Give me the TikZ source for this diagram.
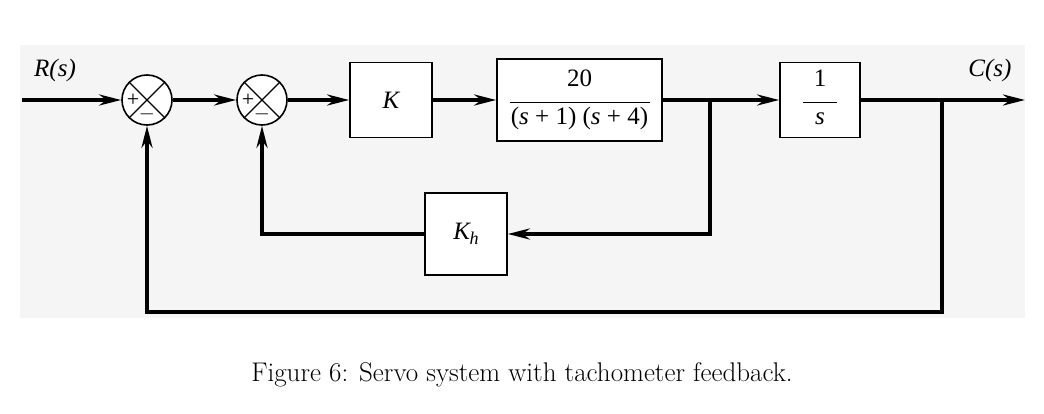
\documentclass[tikz,border=0pt]{standalone}
\usepackage{fontspec}
\newfontfamily\tms{Liberation Serif}
\usetikzlibrary{arrows.meta}
\begin{document}
\begin{tikzpicture}[x=1pt,y=-1pt,
  wire/.style={line width=3.5pt},
  arr/.style={wire,-{Stealth[length=22pt,width=11pt]}},
  blk/.style={draw,line width=1.6pt,fill=white,inner sep=0pt,font=\tms\fontsize{25}{27}\selectfont},
  sumc/.style={draw,line width=1.6pt,circle,minimum size=50pt,inner sep=0pt,fill=white},
  lab/.style={font=\tms\itshape\fontsize{25}{27}\selectfont}]
\useasboundingbox (0,0) rectangle (1044,414);
\fill[black!4] (20,45) rectangle (1025,318);
\node[sumc] (s1) at (147,100) {};
\node[sumc] (s2) at (262,100) {};
\foreach \s in {s1,s2}{
 \draw[line width=1.4pt] (\s.north west)--(\s.south east) (\s.north east)--(\s.south west);
 \node[font=\tms\fontsize{22}{22}\selectfont] at ([xshift=-14pt]\s.center) {+};
 \node[font=\fontsize{22}{22}\selectfont] at ([yshift=-14pt]\s.center) {$-$};}
\node[blk,minimum width=82pt,minimum height=75pt] (K) at (391,100) {\itshape K};
\node[blk,minimum width=165pt,minimum height=82pt] (G) at (579.5,100) {\begin{tabular}{@{}c@{}}20\\[-10pt]\rule{140pt}{1pt}\\[-6pt](\textit{s} + 1) (\textit{s} + 4)\end{tabular}};
\node[blk,minimum width=80pt,minimum height=75pt] (I) at (820,100) {\begin{tabular}{@{}c@{}}1\\[-10pt]\rule{34pt}{1pt}\\[-6pt]\textit{s}\end{tabular}};
\node[blk,minimum width=82pt,minimum height=82pt] (Kh) at (466,234) {\itshape K\kern-0.5pt\raisebox{-5pt}{\fontsize{18}{18}\selectfont h}};
\coordinate (in) at (22,100);
\coordinate (out) at (1025,100);
\coordinate (b1) at (710,100);
\coordinate (b2) at (942,100);
\node[lab] at (55,70) {R(s)};
\node[lab] at (990,70) {C(s)};
\draw[arr] (in) -- (s1.west);
\draw[arr] (s1.east) -- (s2.west);
\draw[arr] (s2.east) -- (K.west);
\draw[arr] (K.east) -- (G.west);
\draw[arr] (G.east) -- (I.west);
\draw[arr] (I.east) -- (out);
\draw[arr] (b1) |- (Kh.east);
\draw[arr] (Kh.west) -| (s2.south);
\draw[arr] (b2) |- (147,312) -- (s1.south);
\node[font=\fontsize{27}{32}\selectfont] (cap) at (522,375) {Figure 6: Servo system with tachometer feedback.};
\end{tikzpicture}
\end{document}
